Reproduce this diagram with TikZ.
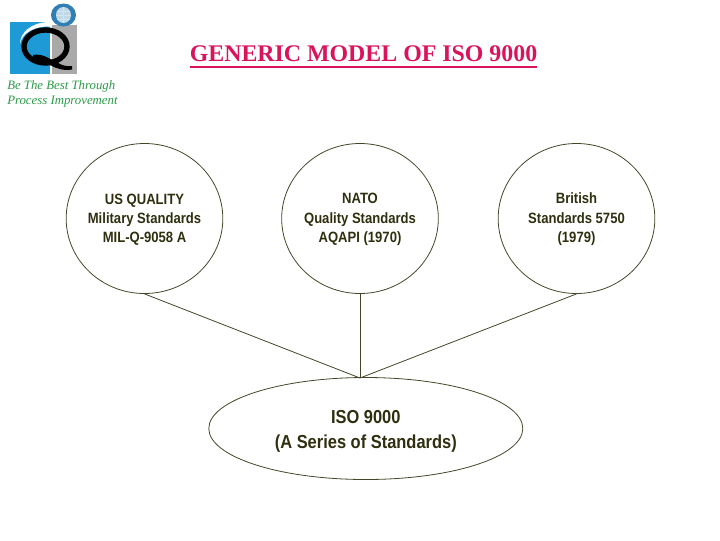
\documentclass[tikz,border=0pt]{standalone}
\usepackage{fontspec}
\setmainfont{Liberation Sans}
\newfontfamily\serifface{Liberation Serif}
\newfontfamily\condface[FakeStretch=0.875]{Liberation Sans}
\usetikzlibrary{shapes.geometric}
\definecolor{inkolive}{HTML}{2F2F10}
\definecolor{lineolive}{HTML}{45452A}
\definecolor{titlered}{HTML}{D9145C}
\definecolor{taggreen}{HTML}{2A9A48}
\definecolor{logoblue}{HTML}{1E9AD6}
\definecolor{logogray}{HTML}{A9A9A9}
\definecolor{globeblue}{HTML}{2F7FB5}
\tikzset{
  x=0.75pt,y=-0.75pt,
  source/.style={draw=lineolive,line width=0.6pt,ellipse,minimum width=117.5pt,minimum height=112.5pt,inner sep=-10pt,
    align=center,text=inkolive,font=\condface\bfseries\fontsize{11.2pt}{14.6pt}\selectfont},
  result/.style={draw=lineolive,line width=0.6pt,ellipse,minimum width=235.5pt,minimum height=76.5pt,inner sep=-10pt,
    align=center,text=inkolive,font=\condface\bfseries\fontsize{14.1pt}{18.75pt}\selectfont},
  link/.style={draw=lineolive,line width=0.6pt},
  tagline/.style={text=taggreen,anchor=west,inner sep=0pt,font=\serifface\itshape\fontsize{9.6pt}{11pt}\selectfont},
}
\begin{document}
\begin{tikzpicture}
\useasboundingbox (0,0) rectangle (720,540);
% logo
\fill[logoblue] (10,22) -- (50,22) -- (50,74) -- (10,74) -- cycle;
\fill[logogray] (52,25) -- (77,25) -- (77,74) -- (52,74) -- cycle;
\fill[white] (20,44) .. controls (22,33) and (34,26) .. (50,26.5) -- (50,22) -- (47,22) .. controls (32,23) and (20,32) .. (20,44) -- cycle;
\fill[globeblue] (63.5,15) ellipse (12.5 and 11.5);
\fill[white!70!globeblue] (63.5,15) ellipse (7.5 and 8);
\draw[white!80!globeblue,line width=0.3pt] (56,15) -- (71,15) (63.5,7) -- (63.5,23) (57,11) -- (70,11) (57,19) -- (70,19);
\draw[black,line width=4pt] (45.5,46.5) ellipse (21.5 and 16.5);
\fill[black] (33,55) .. controls (42,53) and (50,59) .. (58,63) .. controls (63,66) and (68,66.5) .. (72,66) -- (72,69.5) .. controls (64,71) and (56,68.5) .. (50,65) .. controls (45,62) and (38,60) .. (33,60) -- cycle;
% title
\node[inner sep=0pt,text=titlered,font=\serifface\bfseries\fontsize{17.9pt}{20pt}\selectfont] (title) at (363.5,54) {GENERIC MODEL OF ISO 9000};
\draw[titlered,line width=1.3pt] (190,66.7) -- (537,66.7);
% tagline
\node[tagline] (tagone) at (7,86) {Be The Best Through};
\node[tagline] (tagtwo) at (7,101.5) {Process Improvement};
% diagram
\node[source] (us) at (144.5,218.5) {\rule{0pt}{9.7pt}US QUALITY\\Military Standards\\MIL-Q-9058 A};
\node[source] (nato) at (360,218.5) {\rule{0pt}{9.7pt}NATO\\Quality Standards\\AQAPI (1970)};
\node[source] (british) at (576.5,218.5) {\rule{0pt}{9.7pt}British\\Standards 5750\\(1979)};
\node[result] (iso) at (365.8,428.5) {\rule{0pt}{14pt}ISO 9000\\(A Series of Standards)};
\coordinate (apex) at (360,378);
\draw[link] (us.south) -- (apex);
\draw[link] (nato.south) -- (apex);
\draw[link] (british.south) -- (apex);
\end{tikzpicture}
\end{document}
